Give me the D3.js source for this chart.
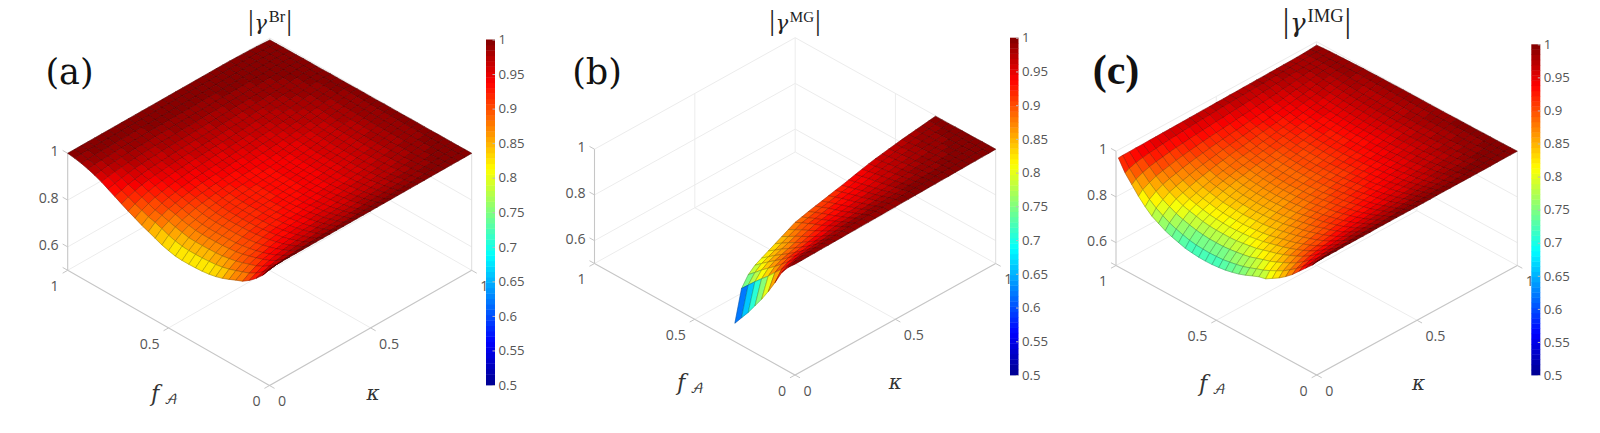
<!DOCTYPE html>
<html>
<head>
<meta charset="utf-8">
<script src="https://cdn.jsdelivr.net/npm/d3@7"></script>
<style>
html,body{margin:0;padding:0;background:#fff;}
svg{display:block;}
</style>
</head>
<body>
<svg id="chart" width="1600" height="433"></svg>
<script>
// Node coordinates of the meshes
const fA = [0,.0333,.0667,.1,.1333,.1667,.2,.2333,.2667,.3,.3333,.3667,.4,.4333,.4667,.5,.5333,.5667,.6,.6333,.6667,.7,.7333,.7667,.8,.8333,.8667,.9,.9333,.9667,1];
const kappa = [0,.0333,.0667,.1,.1333,.1667,.2,.2333,.2667,.3,.3333,.3667,.4,.4333,.4667,.5,.5333,.5667,.6,.6333,.6667,.7,.7333,.7667,.8,.8333,.8667,.9,.9333,.9667,1];
const kappaIMG = [.012,.0333,.0667,.1,.1333,.1667,.2,.2333,.2667,.3,.3333,.3667,.4,.4333,.4667,.5,.5333,.5667,.6,.6333,.6667,.7,.7333,.7667,.8,.8333,.8667,.9,.9333,.9667,1];
const fAStrip = [0,.0333,.0667,.1,.1333,.1667,.2,.2333,.2667,.3];

const zTicks = [600,800,1000];
const floorTicks = [0,.5,1];
const colorTicks = [500,550,600,650,700,750,800,850,900,950,1000];

// |gamma| in thousandths; one row per kappa node, one column per f_A node
const gammaBr = [
[1000,955,925,900,880,868,855,843,834,828,824,822,821,821,823,830,838,850,862,873,887,900,915,930,945,960,972,982,990,996,1000],
[1000,962,936,915,898,887,876,866,858,853,850,848,847,847,849,855,863,875,885,893,904,915,928,940,953,966,976,985,991,997,1000],
[1000,967,945,927,913,903,893,884,878,873,870,869,868,868,869,875,882,890,899,905,916,927,938,949,960,971,980,987,993,997,1000],
[1000,971,952,936,924,914,905,897,891,888,885,884,883,883,884,889,895,903,910,917,926,936,946,955,965,974,982,988,994,997,1000],
[1000,974,957,943,930,920,912,905,900,896,894,893,892,892,893,897,903,911,918,926,934,943,952,960,969,977,984,990,994,998,1000],
[1000,977,961,948,937,927,919,913,908,905,903,902,902,902,903,906,912,918,926,932,940,948,956,964,971,979,985,991,995,998,1000],
[1000,978,964,952,941,933,926,920,916,913,911,910,909,909,910,914,918,925,931,938,945,952,959,966,974,981,987,991,995,998,1000],
[1000,980,966,955,945,937,930,925,921,918,916,915,915,915,916,919,923,929,936,941,948,955,962,968,975,982,987,992,995,998,1000],
[1000,981,968,957,948,940,934,929,925,923,921,920,920,920,921,923,928,933,939,945,951,957,964,970,977,983,988,992,996,998,1000],
[1000,982,970,959,951,943,937,932,929,926,925,924,923,923,924,927,931,936,942,947,953,959,966,972,978,984,989,993,996,998,1000],
[1000,982,971,961,952,945,940,935,931,929,927,927,926,926,927,930,934,939,944,949,955,961,967,973,979,984,989,993,996,998,1000],
[1000,983,972,962,954,947,942,937,934,932,930,929,929,929,930,932,936,941,946,951,957,962,968,974,979,985,989,993,996,998,1000],
[1000,984,973,964,956,950,944,940,937,934,933,932,932,932,933,935,939,943,949,953,959,964,969,975,980,986,990,994,996,999,1000],
[1000,984,974,965,957,951,946,942,938,936,935,934,934,934,935,937,940,945,950,954,960,965,970,975,981,986,990,994,996,999,1000],
[1000,985,974,966,959,952,947,943,940,938,937,936,936,936,936,939,942,947,951,956,961,966,971,976,981,986,990,994,997,999,1000],
[1000,985,976,967,960,954,950,946,943,941,940,939,939,939,939,941,945,949,954,958,963,967,972,977,982,987,991,994,997,999,1000],
[1000,986,977,969,962,957,952,948,945,944,942,942,941,941,942,944,947,951,956,960,964,969,974,978,983,988,991,994,997,999,1000],
[1000,987,978,970,964,959,954,951,948,946,945,945,944,944,945,947,950,954,958,962,966,970,975,979,984,988,992,995,997,999,1000],
[1000,987,979,972,966,961,957,953,951,949,948,947,947,947,948,950,952,956,960,964,968,972,976,980,985,989,992,995,997,999,1000],
[1000,988,980,974,968,964,960,957,954,953,952,951,951,951,951,953,956,959,963,966,970,974,978,982,986,990,993,995,997,999,1000],
[1000,989,982,976,971,966,963,960,958,956,955,955,955,955,955,957,959,962,966,969,972,976,980,983,987,990,993,996,998,999,1000],
[1000,990,983,978,973,969,966,963,961,960,959,959,958,958,959,960,963,965,969,971,975,978,981,985,988,991,994,996,998,999,1000],
[1000,991,985,980,976,972,969,967,965,964,963,962,962,962,963,964,966,969,971,974,977,980,983,986,989,992,994,996,998,999,1000],
[1000,992,987,982,979,975,973,971,969,968,967,967,967,967,967,968,970,973,975,977,980,982,985,988,990,993,995,997,998,999,1000],
[1000,993,989,985,982,979,977,975,974,973,972,972,972,972,972,973,974,976,979,980,983,985,987,989,992,994,996,997,998,999,1000],
[1000,994,991,987,985,982,981,979,978,977,977,976,976,976,977,977,979,980,982,984,986,987,989,991,993,995,996,998,999,999,999],
[1000,996,993,990,988,986,985,983,982,982,981,981,981,981,981,982,983,984,986,987,989,990,992,993,995,996,997,998,999,999,998],
[1000,997,994,993,991,990,988,987,987,986,986,986,986,986,986,987,987,988,989,990,991,993,994,995,996,997,998,998,998,998,997],
[1000,998,996,995,994,993,992,992,991,991,991,991,991,991,991,991,992,992,993,994,994,995,996,997,997,997,997,997,997,997,996],
[1000,999,998,998,997,997,996,996,996,995,995,995,995,995,995,996,996,996,996,996,996,996,996,996,996,996,996,996,995,995,994],
[1000,1000,999,999,999,999,998,998,998,998,997,997,997,997,996,996,996,996,995,995,995,995,994,994,994,994,993,993,993,992,992]
];

const gammaMG = [
[985,955,915,855,800,750,705,660,620,580],
[985,966,932,898,867,835,807,778,747,716],
[986,971,942,914,887,861,837,813,786,760],
[986,974,948,923,899,875,854,832,809,785],
[987,976,952,928,906,884,864,844,822,800],
[987,978,956,933,913,893,874,856,835,815],
[988,980,959,939,920,901,884,867,849,830],
[988,981,963,944,927,910,895,879,862,845],
[989,983,966,950,934,919,905,891,875,860],
[989,985,970,955,941,927,915,902,889,875],
[990,986,972,958,945,932,920,908,895,882],
[990,987,974,960,948,936,925,914,902,890],
[991,988,975,963,952,940,930,920,908,897],
[991,988,977,965,954,944,934,924,914,903],
[992,989,978,968,958,948,939,930,920,910],
[992,990,980,970,961,952,944,935,926,917],
[993,991,982,972,964,955,948,940,931,923],
[993,992,983,975,967,959,952,945,938,930],
[994,993,985,978,971,964,958,952,945,938],
[994,993,987,980,974,968,963,957,951,945],
[995,994,988,983,977,972,967,963,957,952],
[995,995,990,985,980,976,971,967,963,958],
[996,996,991,987,983,979,975,971,967,963],
[996,996,992,988,985,981,978,975,972,968],
[997,997,994,990,987,984,982,979,976,973],
[997,997,995,992,990,987,985,983,980,978],
[998,998,996,994,992,990,988,986,984,982],
[998,998,997,995,993,992,990,989,988,986],
[999,999,998,996,995,994,993,992,991,990],
[999,999,999,998,997,997,996,995,995,994],
[1000,1000,1000,999,999,999,999,998,998,998]
];

const gammaIMG = [
[995,960,930,900,870,845,823,805,787,780,768,755,744,736,729,725,722,721,722,725,729,738,747,758,774,790,815,845,880,915,965],
[996,965,938,912,886,864,844,828,813,799,789,777,767,760,754,749,747,746,747,749,754,762,771,782,798,815,837,864,894,925,966],
[996,969,945,922,899,879,862,848,834,822,813,803,793,787,782,778,775,775,775,778,782,789,797,807,821,836,856,879,906,934,966],
[996,972,951,930,909,891,876,863,851,840,832,823,814,809,804,800,798,798,798,800,804,811,818,826,839,853,870,891,916,940,967],
[997,974,954,935,915,899,885,873,862,852,844,836,828,823,818,815,813,812,813,815,818,824,831,839,850,863,880,899,922,945,967],
[997,976,957,939,921,905,892,881,870,861,854,846,838,833,829,826,824,824,824,826,829,835,841,849,860,872,887,905,927,948,968],
[997,977,960,943,926,912,899,889,879,870,863,856,849,844,840,838,836,835,836,838,840,846,852,859,869,880,895,912,932,952,968],
[997,979,963,946,930,917,905,896,886,878,872,865,858,854,850,848,846,845,846,848,850,856,861,867,877,888,901,917,936,955,969],
[997,980,965,949,934,922,911,902,892,885,879,872,866,862,859,856,855,854,855,856,859,864,869,875,884,894,907,922,939,957,969],
[998,981,967,952,938,926,916,907,899,892,886,880,874,870,867,865,863,863,863,865,867,872,876,882,891,900,912,926,943,960,970],
[998,982,968,955,941,930,920,912,904,897,892,886,881,877,874,872,870,870,870,872,874,878,883,888,896,905,917,930,946,962,970],
[998,983,970,957,945,934,925,917,909,903,898,892,887,884,881,879,878,877,878,879,881,885,889,895,902,911,921,934,949,964,971],
[998,984,972,959,947,937,928,921,914,908,903,898,893,889,887,885,883,883,883,885,887,891,895,900,907,915,925,937,951,966,971],
[998,985,973,961,950,940,932,925,918,912,908,903,898,895,892,890,889,889,889,890,892,896,900,905,911,919,929,940,954,967,972],
[998,985,974,963,953,943,935,929,922,917,912,908,903,900,898,896,895,895,895,896,898,901,905,909,916,923,932,943,956,969,972],
[998,986,976,965,955,947,939,933,927,921,917,913,909,906,903,902,901,900,901,902,903,907,910,914,921,928,936,947,959,971,973],
[998,987,977,967,958,950,942,937,931,926,922,918,914,911,909,907,906,906,906,907,909,912,915,919,925,932,940,950,961,972,973],
[998,988,979,969,960,953,946,941,935,930,927,923,919,917,915,913,912,912,912,913,915,918,921,924,930,936,944,953,963,974,974],
[999,989,980,971,963,956,950,944,939,935,932,928,924,922,920,919,918,918,918,919,920,923,926,929,934,940,947,956,966,975,974],
[999,989,981,973,966,959,953,948,944,940,936,933,930,928,926,924,924,923,924,924,926,928,931,934,939,944,951,959,968,976,975],
[999,990,983,975,968,962,957,952,948,944,941,938,935,933,931,930,929,929,929,930,931,934,936,939,944,949,955,962,971,977,975],
[999,991,984,977,971,965,960,956,952,949,946,943,940,939,937,936,935,935,935,936,937,939,941,944,948,953,958,965,973,978,976],
[999,992,986,980,974,969,965,961,957,954,952,949,947,945,944,943,942,942,942,943,944,946,948,950,954,958,963,969,976,979,976],
[999,993,987,982,977,972,968,965,962,959,957,954,952,951,950,949,948,948,948,949,950,951,953,955,959,962,967,972,978,980,977],
[999,994,989,984,980,976,973,970,967,965,963,961,959,958,957,956,955,955,955,956,957,958,960,962,964,967,971,976,981,981,977],
[999,995,991,987,983,980,977,975,972,970,969,967,966,965,964,963,963,962,963,963,964,965,966,968,970,973,976,980,982,982,978],
[999,996,993,989,986,984,981,980,978,976,975,973,972,971,971,970,970,970,970,970,971,972,973,974,976,978,981,983,983,983,978],
[1000,997,994,991,989,987,985,983,982,981,980,978,977,977,976,976,976,975,976,976,976,977,978,979,980,982,984,984,984,984,979],
[1000,998,996,994,992,991,989,988,987,986,986,985,984,984,983,983,983,983,983,983,983,984,984,985,986,986,986,986,985,985,980],
[1000,999,998,996,995,995,994,993,993,992,992,991,991,990,990,990,990,990,990,990,990,990,990,990,989,988,988,987,986,986,982],
[1000,999,999,998,998,998,997,997,997,997,996,996,996,996,996,996,996,996,996,995,995,995,994,994,993,992,991,990,989,987,985]
];

// Jet colour map over the shared colour limits, in 64 steps
const jetStops = [[0,0,143],[0,0,255],[0,255,255],[255,255,0],[255,0,0],[128,0,0]];
const jetDomain = [500,562.5,687.5,812.5,937.5,1000];
const jet = d3.scaleLinear().domain(jetDomain).range(jetStops.map(c => d3.rgb(...c)+"")).interpolate(d3.interpolateRgb).clamp(true);
const levels = 64;
const levelOf = d3.scaleQuantize().domain([500,1000]).range(d3.range(levels).map(l => jet(500 + (l + .5) * 500 / levels)));

const GRID = "#ececec", AXIS = "#c6c6c6", TEXT = "#555", SERIF = "'Liberation Serif',serif", SANS = "'Open Sans',sans-serif";
const MATH = "'DejaVu Math TeX Gyre','DejaVu Serif','Liberation Serif',serif";

const panels = [
  { tag:"(a)", tagAt:[69.5,84], tagFont:"'DejaVu Serif',serif", tagSize:35, tagWeight:400, sup:"Br", titleAt:[270,30], gammaSize:21, supSize:16.5, barSize:29,
    O:[269.5,385.5], L:[67.7,270.3], R:[471.7,270.3], H:117, data:gammaBr, fs:fA, ks:kappa,
    cbar:{x:486,w:9,top:39.5,bottom:385}, fLabel:[163,401], kLabel:[372.8,400] },
  { tag:"(b)", tagAt:[597,84], tagFont:"'DejaVu Serif',serif", tagSize:35, tagWeight:400, sup:"MG", titleAt:[795,30], gammaSize:21, supSize:15, barSize:29,
    O:[795,375], L:[594.5,263.5], R:[995.7,263.5], H:114.3, data:gammaMG, fs:fAStrip, ks:kappa,
    cbar:{x:1010,w:8.5,top:37.7,bottom:375}, fLabel:[689,390], kLabel:[895,389] },
  { tag:"(c)", tagAt:[1116,84], tagFont:SERIF, tagSize:42, tagWeight:700, sup:"IMG", titleAt:[1317,32], gammaSize:26, supSize:18.5, barSize:33,
    O:[1316.7,375], L:[1116,265.5], R:[1517.3,265.5], H:114.3, data:gammaIMG, fs:fA, ks:kappaIMG,
    cbar:{x:1531.3,w:9,top:44.3,bottom:375}, fLabel:[1211,391], kLabel:[1418.3,390] }
];

const svg = d3.select("#chart");

panels.forEach(p => {
  const g = svg.append("g");

  // Orthographic view: offsets along each data axis add up on screen
  const fx = d3.scaleLinear().domain([0,1]).range([0, p.L[0]-p.O[0]]);
  const fy = d3.scaleLinear().domain([0,1]).range([0, p.L[1]-p.O[1]]);
  const kx = d3.scaleLinear().domain([0,1]).range([0, p.R[0]-p.O[0]]);
  const ky = d3.scaleLinear().domain([0,1]).range([0, p.R[1]-p.O[1]]);
  const zy = d3.scaleLinear().domain([500,1000]).range([0, -p.H]);
  const project = (f,k,z) => [p.O[0]+fx(f)+kx(k), p.O[1]+fy(f)+ky(k)+zy(z)];
  const seg = d3.line();

  const stroke = (pts, color, width=1) => g.append("path").attr("d", seg(pts)).attr("fill","none").attr("stroke",color).attr("stroke-width",width);

  // Box walls and floor grid
  [500,600,800,1000].forEach(z => {
    stroke([project(1,0,z),project(1,1,z),project(0,1,z)], GRID);
  });
  stroke([project(1,.5,500),project(1,.5,1000)], GRID);
  stroke([project(.5,1,500),project(.5,1,1000)], GRID);
  stroke([project(.5,0,500),project(.5,1,500)], GRID);
  stroke([project(0,.5,500),project(1,.5,500)], GRID);
  stroke([project(1,1,500),project(1,1,1000)], GRID);
  stroke([project(0,1,500),project(0,1,1000)], "#dedede");

  // Axis rulers with outward ticks
  stroke([project(1,0,500),project(1,0,1000)], AXIS, 1.1);
  stroke([project(1,0,500),project(0,0,500),project(0,1,500)], AXIS, 1.1);
  zTicks.forEach(z => stroke([project(1,0,z),project(1.025,0,z)], AXIS));
  stroke([project(1,0,500),project(1.025,0,500)], AXIS);
  floorTicks.forEach(v => {
    stroke([project(v,0,500),project(v,-.025,500)], AXIS);
    stroke([project(0,v,500),project(-.025,v,500)], AXIS);
  });

  // Tick labels
  const tickStyle = s => s.attr("font-family",SANS).attr("font-size",14.2).attr("fill",TEXT).attr("dy",".36em");
  zTicks.forEach(z => {
    const [x,y] = project(1,0,z);
    g.append("text").text(d3.format("~g")(z/1000)).attr("x",x-9).attr("y",y-2).attr("text-anchor","end").call(tickStyle);
  });
  floorTicks.forEach(v => {
    const [fxp,fyp] = project(v,0,500);
    g.append("text").text(v).attr("x",fxp-9).attr("y",fyp+15.5).attr("text-anchor","end").call(tickStyle);
    const [kxp,kyp] = project(0,v,500);
    g.append("text").text(v).attr("x",kxp+8.5).attr("y",kyp+15.5).attr("text-anchor","start").call(tickStyle);
  });

  // Axis names
  const fText = g.append("text").attr("x",p.fLabel[0]).attr("y",p.fLabel[1]).attr("text-anchor","middle").attr("font-family",MATH).attr("fill","#333");
  fText.append("tspan").attr("font-size",22).text("𝑓");
  fText.append("tspan").attr("font-size",13).attr("dy",3).text("𝒜");
  g.append("text").text("𝜅").attr("x",p.kLabel[0]).attr("y",p.kLabel[1]).attr("text-anchor","middle").attr("font-family",MATH).attr("font-size",20).attr("fill","#333");

  // Mesh, painted from the far corner towards the viewer
  const Z = p.data, K = p.ks;
  const cells = g.append("g").attr("stroke-linejoin","round");
  for (let j = Z.length-2; j >= 0; j--) {
    for (let i = p.fs.length-2; i >= 0; i--) {
      const d = seg([
        project(p.fs[i],K[j],Z[j][i]),
        project(p.fs[i+1],K[j],Z[j][i+1]),
        project(p.fs[i+1],K[j+1],Z[j+1][i+1]),
        project(p.fs[i],K[j+1],Z[j+1][i])
      ]) + "Z";
      const c = levelOf(Z[j][i]);
      cells.append("path").attr("d",d).attr("fill",c).attr("stroke",c).attr("stroke-width",.5);
      cells.append("path").attr("d",d).attr("fill","none").attr("stroke","#000").attr("stroke-opacity",.36).attr("stroke-width",.6);
    }
  }

  // Colour bar
  const cb = p.cbar;
  const cbScale = d3.scaleLinear().domain([500,1000]).range([cb.bottom,cb.top]);
  const bar = g.append("g");
  bar.selectAll("rect").data(d3.range(levels)).join("rect")
    .attr("x",cb.x).attr("width",cb.w)
    .attr("y",l => cbScale(500 + (l+1)*500/levels))
    .attr("height",(cb.bottom-cb.top)/levels + .4)
    .attr("fill",l => jet(500 + (l+.5)*500/levels));
  const axis = d3.axisRight(cbScale).tickValues(colorTicks).tickFormat(v => d3.format("~g")(v/1000)).tickSize(-2.5).tickPadding(3.5);
  const ag = g.append("g").attr("transform",`translate(${cb.x+cb.w},0)`).call(axis);
  ag.select(".domain").remove();
  ag.selectAll("line").attr("stroke","#bbb");
  ag.selectAll("text").attr("font-family",SANS).attr("font-size",13.2).attr("fill",TEXT);

  // Title
  const t = g.append("text").attr("x",p.titleAt[0]).attr("y",p.titleAt[1]).attr("text-anchor","middle").attr("font-family",SERIF).attr("fill","#222");
  t.append("tspan").attr("font-size",p.barSize).attr("font-weight",200).text("|");
  t.append("tspan").attr("font-family",MATH).attr("font-size",p.gammaSize).attr("dx",1).text("𝛾");
  t.append("tspan").attr("font-size",p.supSize).attr("dy",-p.gammaSize*.38).text(p.sup);
  t.append("tspan").attr("font-size",p.barSize).attr("font-weight",200).attr("dy",p.gammaSize*.38).attr("dx",1).text("|");

  // Panel tag
  g.append("text").text(p.tag).attr("x",p.tagAt[0]).attr("y",p.tagAt[1]).attr("text-anchor","middle")
    .attr("font-family",p.tagFont).attr("font-size",p.tagSize).attr("font-weight",p.tagWeight).attr("fill","#111");
});
</script>
</body>
</html>
